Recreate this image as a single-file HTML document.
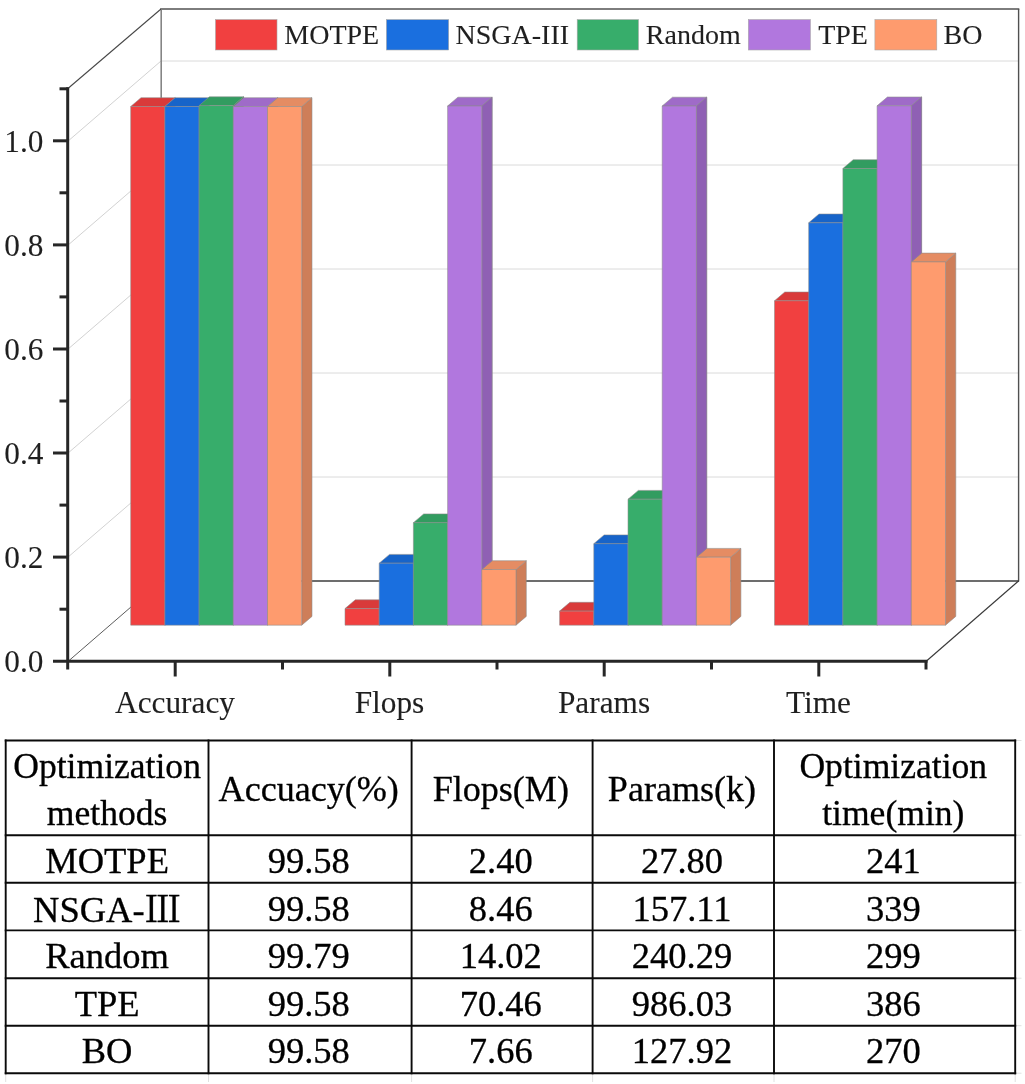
<!DOCTYPE html>
<html lang="en"><head><meta charset="utf-8"><title>Optimization methods comparison</title>
<style>
html,body{margin:0;padding:0;background:#fff;}
body{width:1025px;height:1084px;position:relative;overflow:hidden;font-family:"Liberation Serif", serif;}
#wrap{filter:blur(0.45px);position:absolute;left:0;top:0;width:1025px;height:1084px;overflow:hidden;background:#fff;}
.cell{position:absolute;display:flex;align-items:center;justify-content:center;text-align:center;font-size:36.5px;line-height:47.6px;color:#000;-webkit-text-stroke:0.3px #000;white-space:nowrap;box-sizing:border-box;}
.cell span{display:block;position:relative;top:1.8px}
.hd1{font-size:36.1px}
.hd1 span{top:1.7px}
.hd2{font-size:35.9px;line-height:47.3px}
.hd2 span{top:2.2px}
.hd2{font-size:35.6px}
.sl span{left:-1.3px}
.ns span{top:3.6px}
.cell .r3{display:inline;position:static;font-family:"Liberation Serif","Noto Serif CJK SC",serif}
</style></head><body><div id="wrap">
<svg width="1025" height="740" viewBox="0 0 1025 740" style="position:absolute;left:0;top:0">
<g fill="none">
<line x1="161" y1="61" x2="1018.5" y2="61" stroke="#dadada" stroke-width="1"/>
<line x1="161" y1="165" x2="1018.5" y2="165" stroke="#dadada" stroke-width="1"/>
<line x1="161" y1="269" x2="1018.5" y2="269" stroke="#dadada" stroke-width="1"/>
<line x1="161" y1="373" x2="1018.5" y2="373" stroke="#dadada" stroke-width="1"/>
<line x1="161" y1="477" x2="1018.5" y2="477" stroke="#dadada" stroke-width="1"/>
<line x1="68.5" y1="556.7" x2="161" y2="477.0" stroke="#d2d2d2" stroke-width="1"/>
<line x1="68.5" y1="452.7" x2="161" y2="373.0" stroke="#d2d2d2" stroke-width="1"/>
<line x1="68.5" y1="348.7" x2="161" y2="269.0" stroke="#d2d2d2" stroke-width="1"/>
<line x1="68.5" y1="244.7" x2="161" y2="165.0" stroke="#d2d2d2" stroke-width="1"/>
<line x1="68.5" y1="140.7" x2="161" y2="61.0" stroke="#d2d2d2" stroke-width="1"/>
<line x1="160.2" y1="9" x2="1019.3" y2="9" stroke="#7d7d7d" stroke-width="2"/>
<line x1="161.2" y1="9" x2="161.2" y2="581" stroke="#858585" stroke-width="1.6"/>
<line x1="1018.6" y1="9" x2="1018.6" y2="581.5" stroke="#505050" stroke-width="1.4"/>
<line x1="161" y1="581" x2="1019" y2="581" stroke="#3c3c3c" stroke-width="1.3"/>
<line x1="68.5" y1="88" x2="161" y2="9" stroke="#464646" stroke-width="1.05"/>
<line x1="68.5" y1="661" x2="161" y2="581" stroke="#484848" stroke-width="0.9"/>
<line x1="926.5" y1="661" x2="1018.5" y2="581" stroke="#3a3a3a" stroke-width="1.15"/>
</g>
<g stroke="#8c8c8c" stroke-width="0.7" stroke-opacity="0.8" stroke-linejoin="round">
<polygon points="164.9,106.5 175.2,97.7 175.2,616.4 164.9,625.2" fill="#C33434"/>
<polygon points="199.1,106.5 209.4,97.7 209.4,616.4 199.1,625.2" fill="#155AB5"/>
<polygon points="233.3,105.6 243.6,96.8 243.6,616.4 233.3,625.2" fill="#2D8C57"/>
<polygon points="267.5,106.5 277.8,97.7 277.8,616.4 267.5,625.2" fill="#8F60B4"/>
<polygon points="301.7,106.5 312.0,97.7 312.0,616.4 301.7,625.2" fill="#CE7E59"/>
<polygon points="130.7,106.5 141.0,97.7 175.2,97.7 164.9,106.5" fill="#D93A3A"/>
<polygon points="164.9,106.5 175.2,97.7 209.4,97.7 199.1,106.5" fill="#1764C9"/>
<polygon points="199.1,105.6 209.4,96.8 243.6,96.8 233.3,105.6" fill="#329C60"/>
<polygon points="233.3,106.5 243.6,97.7 277.8,97.7 267.5,106.5" fill="#9F6BC8"/>
<polygon points="267.5,106.5 277.8,97.7 312.0,97.7 301.7,106.5" fill="#E58C63"/>
<polygon points="233.3,105.6 243.6,96.8 243.6,97.7 233.3,106.5" fill="#2D8C57"/>
<rect x="130.7" y="106.5" width="34.2" height="518.7" fill="#F14040"/>
<rect x="164.9" y="106.5" width="34.2" height="518.7" fill="#1A6FDF"/>
<rect x="199.1" y="105.6" width="34.2" height="519.6" fill="#37AD6B"/>
<rect x="233.3" y="106.5" width="34.2" height="518.7" fill="#B177DE"/>
<rect x="267.5" y="106.5" width="34.2" height="518.7" fill="#FE9B6E"/>
<polygon points="379.2,608.6 389.5,599.8 389.5,616.4 379.2,625.2" fill="#C33434"/>
<polygon points="413.4,563.2 423.7,554.4 423.7,616.4 413.4,625.2" fill="#155AB5"/>
<polygon points="447.6,522.7 457.9,513.9 457.9,616.4 447.6,625.2" fill="#2D8C57"/>
<polygon points="481.8,106.0 492.1,97.2 492.1,616.4 481.8,625.2" fill="#8F60B4"/>
<polygon points="516.0,569.5 526.3,560.7 526.3,616.4 516.0,625.2" fill="#CE7E59"/>
<polygon points="345.0,608.6 355.3,599.8 389.5,599.8 379.2,608.6" fill="#D93A3A"/>
<polygon points="379.2,563.2 389.5,554.4 423.7,554.4 413.4,563.2" fill="#1764C9"/>
<polygon points="413.4,522.7 423.7,513.9 457.9,513.9 447.6,522.7" fill="#329C60"/>
<polygon points="447.6,106.0 457.9,97.2 492.1,97.2 481.8,106.0" fill="#9F6BC8"/>
<polygon points="481.8,569.5 492.1,560.7 526.3,560.7 516.0,569.5" fill="#E58C63"/>
<polygon points="481.8,106.0 492.1,97.2 492.1,560.7 481.8,569.5" fill="#8F60B4"/>
<rect x="345.0" y="608.6" width="34.2" height="16.6" fill="#F14040"/>
<rect x="379.2" y="563.2" width="34.2" height="62.0" fill="#1A6FDF"/>
<rect x="413.4" y="522.7" width="34.2" height="102.5" fill="#37AD6B"/>
<rect x="447.6" y="106.0" width="34.2" height="519.2" fill="#B177DE"/>
<rect x="481.8" y="569.5" width="34.2" height="55.7" fill="#FE9B6E"/>
<polygon points="593.8,611.1 604.1,602.3 604.1,616.4 593.8,625.2" fill="#C33434"/>
<polygon points="628.0,543.7 638.3,534.9 638.3,616.4 628.0,625.2" fill="#155AB5"/>
<polygon points="662.2,499.2 672.5,490.4 672.5,616.4 662.2,625.2" fill="#2D8C57"/>
<polygon points="696.4,106.0 706.7,97.2 706.7,616.4 696.4,625.2" fill="#8F60B4"/>
<polygon points="730.6,557.2 740.9,548.4 740.9,616.4 730.6,625.2" fill="#CE7E59"/>
<polygon points="559.6,611.1 569.9,602.3 604.1,602.3 593.8,611.1" fill="#D93A3A"/>
<polygon points="593.8,543.7 604.1,534.9 638.3,534.9 628.0,543.7" fill="#1764C9"/>
<polygon points="628.0,499.2 638.3,490.4 672.5,490.4 662.2,499.2" fill="#329C60"/>
<polygon points="662.2,106.0 672.5,97.2 706.7,97.2 696.4,106.0" fill="#9F6BC8"/>
<polygon points="696.4,557.2 706.7,548.4 740.9,548.4 730.6,557.2" fill="#E58C63"/>
<polygon points="696.4,106.0 706.7,97.2 706.7,548.4 696.4,557.2" fill="#8F60B4"/>
<rect x="559.6" y="611.1" width="34.2" height="14.1" fill="#F14040"/>
<rect x="593.8" y="543.7" width="34.2" height="81.5" fill="#1A6FDF"/>
<rect x="628.0" y="499.2" width="34.2" height="126.0" fill="#37AD6B"/>
<rect x="662.2" y="106.0" width="34.2" height="519.2" fill="#B177DE"/>
<rect x="696.4" y="557.2" width="34.2" height="68.0" fill="#FE9B6E"/>
<polygon points="808.7,300.8 819.0,292.0 819.0,616.4 808.7,625.2" fill="#C33434"/>
<polygon points="842.9,222.8 853.2,214.0 853.2,616.4 842.9,625.2" fill="#155AB5"/>
<polygon points="877.1,168.5 887.4,159.7 887.4,616.4 877.1,625.2" fill="#2D8C57"/>
<polygon points="911.3,105.8 921.6,97.0 921.6,616.4 911.3,625.2" fill="#8F60B4"/>
<polygon points="945.5,261.9 955.8,253.1 955.8,616.4 945.5,625.2" fill="#CE7E59"/>
<polygon points="774.5,300.8 784.8,292.0 819.0,292.0 808.7,300.8" fill="#D93A3A"/>
<polygon points="808.7,222.8 819.0,214.0 853.2,214.0 842.9,222.8" fill="#1764C9"/>
<polygon points="842.9,168.5 853.2,159.7 887.4,159.7 877.1,168.5" fill="#329C60"/>
<polygon points="877.1,105.8 887.4,97.0 921.6,97.0 911.3,105.8" fill="#9F6BC8"/>
<polygon points="911.3,261.9 921.6,253.1 955.8,253.1 945.5,261.9" fill="#E58C63"/>
<polygon points="911.3,105.8 921.6,97.0 921.6,253.1 911.3,261.9" fill="#8F60B4"/>
<rect x="774.5" y="300.8" width="34.2" height="324.4" fill="#F14040"/>
<rect x="808.7" y="222.8" width="34.2" height="402.4" fill="#1A6FDF"/>
<rect x="842.9" y="168.5" width="34.2" height="456.7" fill="#37AD6B"/>
<rect x="877.1" y="105.8" width="34.2" height="519.4" fill="#B177DE"/>
<rect x="911.3" y="261.9" width="34.2" height="363.3" fill="#FE9B6E"/>
</g>
<g stroke="#262626" stroke-width="3" fill="none">
<line x1="67.7" y1="87.3" x2="67.7" y2="669.5"/>
<line x1="53" y1="661.2" x2="927.5" y2="661.2"/>
<line x1="59.5" y1="609.2" x2="68" y2="609.2"/>
<line x1="53" y1="557.1" x2="68" y2="557.1"/>
<line x1="59.5" y1="505.1" x2="68" y2="505.1"/>
<line x1="53" y1="453.0" x2="68" y2="453.0"/>
<line x1="59.5" y1="401.0" x2="68" y2="401.0"/>
<line x1="53" y1="349.0" x2="68" y2="349.0"/>
<line x1="59.5" y1="296.9" x2="68" y2="296.9"/>
<line x1="53" y1="244.9" x2="68" y2="244.9"/>
<line x1="59.5" y1="192.8" x2="68" y2="192.8"/>
<line x1="53" y1="140.8" x2="68" y2="140.8"/>
<line x1="59.5" y1="88.8" x2="68" y2="88.8"/>
<line x1="175.2" y1="661" x2="175.2" y2="676.5"/>
<line x1="282.5" y1="661" x2="282.5" y2="669.5"/>
<line x1="389.8" y1="661" x2="389.8" y2="676.5"/>
<line x1="497.0" y1="661" x2="497.0" y2="669.5"/>
<line x1="604.2" y1="661" x2="604.2" y2="676.5"/>
<line x1="711.5" y1="661" x2="711.5" y2="669.5"/>
<line x1="818.8" y1="661" x2="818.8" y2="676.5"/>
<line x1="926.0" y1="661" x2="926.0" y2="669.5"/>
</g>
<g font-family='"Liberation Serif", serif' fill="#1f1f1f" stroke="#1f1f1f" stroke-width="0.1">
<text x="43.4" y="672.1" font-size="31.3" text-anchor="end">0.0</text>
<text x="43.4" y="568.0" font-size="31.3" text-anchor="end">0.2</text>
<text x="43.4" y="463.9" font-size="31.3" text-anchor="end">0.4</text>
<text x="43.4" y="359.9" font-size="31.3" text-anchor="end">0.6</text>
<text x="43.4" y="255.8" font-size="31.3" text-anchor="end">0.8</text>
<text x="43.4" y="151.7" font-size="31.3" text-anchor="end">1.0</text>
<text x="175" y="713.3" font-size="31.3" text-anchor="middle">Accuracy</text>
<text x="389.5" y="713.3" font-size="31.3" text-anchor="middle">Flops</text>
<text x="604" y="713.3" font-size="31.3" text-anchor="middle">Params</text>
<text x="818.5" y="713.3" font-size="31.3" text-anchor="middle">Time</text>
<rect x="215.5" y="19.6" width="61.5" height="30.4" fill="#F14040" stroke="#a8a8a8" stroke-width="0.6"/>
<text x="284.3" y="43.6" font-size="28">MOTPE</text>
<rect x="386.4" y="19.6" width="62.3" height="30.4" fill="#1A6FDF" stroke="#a8a8a8" stroke-width="0.6"/>
<text x="455.5" y="43.6" font-size="28">NSGA-III</text>
<rect x="577.2" y="19.6" width="61.3" height="30.4" fill="#37AD6B" stroke="#a8a8a8" stroke-width="0.6"/>
<text x="645.8" y="43.6" font-size="28">Random</text>
<rect x="748.3" y="19.6" width="62.1" height="30.4" fill="#B177DE" stroke="#a8a8a8" stroke-width="0.6"/>
<text x="818.2" y="43.6" font-size="28">TPE</text>
<rect x="874.9" y="19.6" width="61.9" height="30.4" fill="#FE9B6E" stroke="#a8a8a8" stroke-width="0.6"/>
<text x="943.6" y="43.6" font-size="28">BO</text>
</g>
</svg>
<div class="cell hd2 c0" style="left:5.7px;top:740.5px;width:202.8px;height:94.7px"><span>Optimization<br>methods</span></div>
<div class="cell hd1 sl" style="left:208.5px;top:740.5px;width:203.1px;height:94.7px"><span>Accuacy(%)</span></div>
<div class="cell hd1 sl" style="left:411.6px;top:740.5px;width:181.0px;height:94.7px"><span>Flops(M)</span></div>
<div class="cell hd1 sl" style="left:592.6px;top:740.5px;width:181.4px;height:94.7px"><span>Params(k)</span></div>
<div class="cell hd2 sl" style="left:774.0px;top:740.5px;width:241.2px;height:94.7px"><span>Optimization<br>time(min)</span></div>
<div class="cell" style="left:5.7px;top:835.2px;width:202.8px;height:47.6px"><span>MOTPE</span></div>
<div class="cell sl" style="left:208.5px;top:835.2px;width:203.1px;height:47.6px"><span>99.58</span></div>
<div class="cell sl" style="left:411.6px;top:835.2px;width:181.0px;height:47.6px"><span>2.40</span></div>
<div class="cell sl" style="left:592.6px;top:835.2px;width:181.4px;height:47.6px"><span>27.80</span></div>
<div class="cell sl" style="left:774.0px;top:835.2px;width:241.2px;height:47.6px"><span>241</span></div>
<div class="cell ns" style="left:5.7px;top:882.8px;width:202.8px;height:47.6px"><span>NSGA-<span class="r3">Ⅲ</span></span></div>
<div class="cell sl" style="left:208.5px;top:882.8px;width:203.1px;height:47.6px"><span>99.58</span></div>
<div class="cell sl" style="left:411.6px;top:882.8px;width:181.0px;height:47.6px"><span>8.46</span></div>
<div class="cell sl" style="left:592.6px;top:882.8px;width:181.4px;height:47.6px"><span>157.11</span></div>
<div class="cell sl" style="left:774.0px;top:882.8px;width:241.2px;height:47.6px"><span>339</span></div>
<div class="cell" style="left:5.7px;top:930.4px;width:202.8px;height:47.8px"><span>Random</span></div>
<div class="cell sl" style="left:208.5px;top:930.4px;width:203.1px;height:47.8px"><span>99.79</span></div>
<div class="cell sl" style="left:411.6px;top:930.4px;width:181.0px;height:47.8px"><span>14.02</span></div>
<div class="cell sl" style="left:592.6px;top:930.4px;width:181.4px;height:47.8px"><span>240.29</span></div>
<div class="cell sl" style="left:774.0px;top:930.4px;width:241.2px;height:47.8px"><span>299</span></div>
<div class="cell" style="left:5.7px;top:978.2px;width:202.8px;height:47.5px"><span>TPE</span></div>
<div class="cell sl" style="left:208.5px;top:978.2px;width:203.1px;height:47.5px"><span>99.58</span></div>
<div class="cell sl" style="left:411.6px;top:978.2px;width:181.0px;height:47.5px"><span>70.46</span></div>
<div class="cell sl" style="left:592.6px;top:978.2px;width:181.4px;height:47.5px"><span>986.03</span></div>
<div class="cell sl" style="left:774.0px;top:978.2px;width:241.2px;height:47.5px"><span>386</span></div>
<div class="cell" style="left:5.7px;top:1025.7px;width:202.8px;height:47.5px"><span>BO</span></div>
<div class="cell sl" style="left:208.5px;top:1025.7px;width:203.1px;height:47.5px"><span>99.58</span></div>
<div class="cell sl" style="left:411.6px;top:1025.7px;width:181.0px;height:47.5px"><span>7.66</span></div>
<div class="cell sl" style="left:592.6px;top:1025.7px;width:181.4px;height:47.5px"><span>127.92</span></div>
<div class="cell sl" style="left:774.0px;top:1025.7px;width:241.2px;height:47.5px"><span>270</span></div>
<svg width="1025" height="1084" viewBox="0 0 1025 1084" style="position:absolute;left:0;top:0;pointer-events:none">
<g stroke="#e0e0e0" stroke-width="1">
<line x1="5.7" y1="1073.2" x2="5.7" y2="1082"/>
<line x1="208.5" y1="1073.2" x2="208.5" y2="1082"/>
<line x1="411.6" y1="1073.2" x2="411.6" y2="1082"/>
<line x1="592.6" y1="1073.2" x2="592.6" y2="1082"/>
<line x1="774.0" y1="1073.2" x2="774.0" y2="1082"/>
<line x1="1015.2" y1="1073.2" x2="1015.2" y2="1082"/>
<line x1="1015.2" y1="740.5" x2="1021.5" y2="740.5"/>
<line x1="1015.2" y1="835.2" x2="1021.5" y2="835.2"/>
<line x1="1015.2" y1="882.8" x2="1021.5" y2="882.8"/>
<line x1="1015.2" y1="930.4" x2="1021.5" y2="930.4"/>
<line x1="1015.2" y1="978.2" x2="1021.5" y2="978.2"/>
<line x1="1015.2" y1="1025.7" x2="1021.5" y2="1025.7"/>
<line x1="1015.2" y1="1073.2" x2="1021.5" y2="1073.2"/>
</g>
<g stroke="#0a0a0a" stroke-width="1.9" stroke-linecap="square">
<line x1="5.7" y1="740.5" x2="5.7" y2="1073.2"/>
<line x1="208.5" y1="740.5" x2="208.5" y2="1073.2"/>
<line x1="411.6" y1="740.5" x2="411.6" y2="1073.2"/>
<line x1="592.6" y1="740.5" x2="592.6" y2="1073.2"/>
<line x1="774.0" y1="740.5" x2="774.0" y2="1073.2"/>
<line x1="1015.2" y1="740.5" x2="1015.2" y2="1073.2"/>
<line x1="5.7" y1="740.5" x2="1015.2" y2="740.5"/>
<line x1="5.7" y1="835.2" x2="1015.2" y2="835.2"/>
<line x1="5.7" y1="882.8" x2="1015.2" y2="882.8"/>
<line x1="5.7" y1="930.4" x2="1015.2" y2="930.4"/>
<line x1="5.7" y1="978.2" x2="1015.2" y2="978.2"/>
<line x1="5.7" y1="1025.7" x2="1015.2" y2="1025.7"/>
<line x1="5.7" y1="1073.2" x2="1015.2" y2="1073.2"/>
</g></svg>
</div></body></html>
